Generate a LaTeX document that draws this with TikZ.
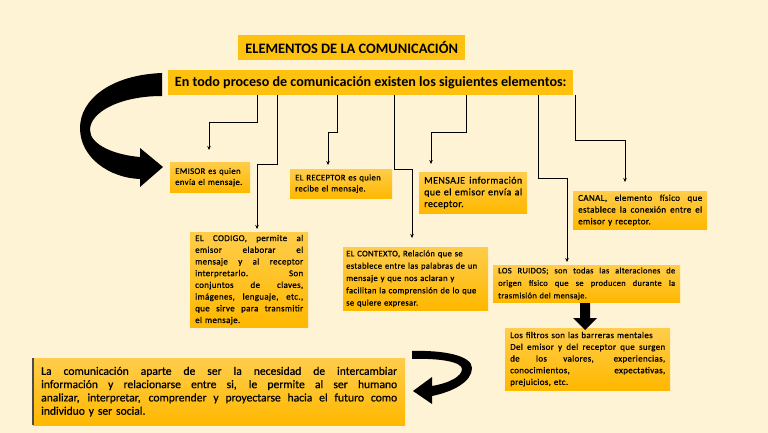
\documentclass[tikz,border=0pt]{standalone}
\usepackage{fontspec}
\setmainfont{Carlito}
\newfontfamily\bxf{Carlito}[LetterSpace=4,FakeBold=0.8]
\newfontfamily\btf{Carlito}[FakeBold=0.6]
\usetikzlibrary{arrows.meta}
\definecolor{bg}{RGB}{255,243,214}
\definecolor{boxtop}{RGB}{255,205,75}
\definecolor{boxbot}{RGB}{255,184,0}
\definecolor{headfill}{RGB}{255,193,15}
\newcommand\J[1]{\leavevmode\hbox to \jw{\spaceskip=\fontdimen2\font plus 1fil\relax\xspaceskip=\fontdimen2\font plus 1fil\relax #1}}
\newcommand\fs[2]{\bxf\fontsize{#1}{#2}\selectfont}
\tikzset{
  box/.style={top color=boxtop,bottom color=boxbot,draw=none,inner xsep=5pt,inner ysep=2pt,
    anchor=north west,align=left},
  headbox/.style={fill=headfill,draw=none,anchor=north west,align=center,inner sep=0pt},
  conn/.style={line width=0.6pt,-{Stealth[length=4pt,width=3.5pt]}},
}
\begin{document}
\begin{tikzpicture}[x=1pt,y=-1pt]
\fill[bg] (0,0) rectangle (768,433);
\useasboundingbox (0,0) rectangle (768,433);

% title and main
\node[headbox,minimum width=227pt,minimum height=25pt,font=\fontsize{14.4}{16}\selectfont\bfseries] (title) at (238,35) {ELEMENTOS DE LA COMUNICACIÓN};
\node[headbox,minimum width=405pt,minimum height=25pt,font=\fontsize{14.1}{16}\selectfont\bfseries] (main) at (168,70) {En todo proceso de comunicación existen los siguientes elementos:};

% boxes
\node[box,minimum width=80pt,text width=70pt,minimum height=30pt,font=\fs{8.7}{11}] (emisor) at (170,162)
  {EMISOR es quien\\envía el mensaje.};
\node[box,minimum width=118pt,text width=108pt,minimum height=95pt,font=\fs{8.9}{11.7}] (codigo) at (190,232)
  {\def\jw{108pt}\J{EL CODIGO, permite al}\\\J{emisor elaborar el}\\\J{mensaje y al receptor}\\\J{interpretarlo. Son}\\\J{conjuntos de claves,}\\\J{imágenes, lenguaje, etc.,}\\\J{que sirve para transmitir}\\el mensaje.};
\node[box,minimum width=102pt,text width=92pt,minimum height=29pt,font=\fs{8.7}{11}] (receptor) at (290,169)
  {EL RECEPTOR es quien\\recibe el mensaje.};
\node[box,minimum width=108pt,text width=98pt,minimum height=41pt,font=\fs{10}{11.7}] (mensaje) at (419,172)
  {\def\jw{98pt}\J{MENSAJE información}\\\J{que el emisor envía al}\\receptor.};
\node[box,minimum width=134pt,text width=124pt,minimum height=38pt,font=\fs{9}{11.7}] (canal) at (573,191)
  {\def\jw{124pt}\J{CANAL, elemento físico que}\\\J{establece la conexión entre el}\\emisor y receptor.};
\node[box,minimum width=145pt,text width=139pt,inner xsep=3pt,minimum height=63pt,font=\fs{8.6}{12.3}] (contexto) at (343,247)
  {\mbox{EL CONTEXTO, Relación que se}\\\mbox{establece entre las palabras de un}\\\mbox{mensaje y que nos aclaran y}\\\mbox{facilitan la comprensión de lo que}\\se quiere expresar.};
\node[box,minimum width=187pt,text width=177pt,minimum height=37pt,font=\fs{8.4}{12.5}] (ruidos) at (493,265)
  {\def\jw{177pt}\J{LOS RUIDOS; son todas las alteraciones de}\\\J{origen físico que se producen durante la}\\trasmisión del mensaje.};
\node[box,minimum width=165pt,text width=155pt,minimum height=62pt,font=\fs{8.9}{11.7}] (filtros) at (505,328)
  {\def\jw{155pt}Los filtros son las barreras mentales\\\J{Del emisor y del receptor que surgen}\\\J{de los valores, experiencias,}\\\J{conocimientos, expectativas,}\\prejuicios, etc.};
\node[box,minimum width=372pt,text width=356pt,inner xsep=8pt,minimum height=67pt,font=\btf\fontsize{11.6}{13.3}\selectfont] (bottom) at (33,358)
  {\def\jw{356pt}\J{La comunicación aparte de ser la necesidad de intercambiar}\\\J{información y relacionarse entre si, le permite al ser humano}\\\J{analizar, interpretar, comprender y proyectarse hacia el futuro como}\\individuo y ser social.};
\draw[line width=1.2pt,black!70] (bottom.north west) -- (bottom.south west);

% bend points
\coordinate (e1) at (257,122);
\coordinate (e2) at (209,122);
\coordinate (c1) at (277,164);
\coordinate (c2) at (257,164);
\coordinate (r1) at (337,132);
\coordinate (r2) at (328,132);
\coordinate (x1) at (394,169);
\coordinate (x2) at (412,169);
\coordinate (m1) at (466,132);
\coordinate (m2) at (431,132);
\coordinate (u1) at (538,178);
\coordinate (u2) at (567,178);
\coordinate (k1) at (575,140);
\coordinate (k2) at (625,140);

% connectors
\draw[conn,shorten >=12pt] (main.south -| e1) -- (e1) -- (e2) -- (e2 |- emisor.north);
\draw[conn,shorten >=3pt] (main.south -| c1) -- (c1) -- (c2) -- (c2 |- codigo.north);
\draw[conn,shorten >=4pt] (main.south -| r1) -- (r1) -- (r2) -- (r2 |- receptor.north);
\draw[conn,shorten >=9pt] (main.south -| x1) -- (x1) -- (x2) -- (x2 |- contexto.north);
\draw[conn,shorten >=8pt] (main.south -| m1) -- (m1) -- (m2) -- (m2 |- mensaje.north);
\draw[conn,shorten >=3pt] (main.south -| u1) -- (u1) -- (u2) -- (u2 |- ruidos.north);
\draw[conn,shorten >=9pt] (main.south -| k1) -- (k1) -- (k2) -- (k2 |- canal.north);

% block arrow ruidos -> filtros
\fill (580,303) -- (590,303) -- (590,318) -- (597,318) -- (585,330) -- (573,318) -- (580,318) -- cycle;

% big curved arrow
\fill (162,73) .. controls (110,75) and (80,100) .. (80,128)
  .. controls (80,158) and (110,178) .. (140,179)
  -- (140,187) -- (163,167) -- (140,148) -- (140,157)
  .. controls (115,155) and (90,145) .. (90,130)
  .. controls (90,112) and (120,96) .. (162,96) -- cycle;

% small curved arrow
\fill (412,351) .. controls (445,350) and (472,356) .. (472,368)
  .. controls (472,382) and (452,392) .. (432,396)
  -- (432,404) -- (413,391) -- (432,377) -- (432,386)
  .. controls (450,383) and (462,376) .. (462,369)
  .. controls (462,362) and (440,358) .. (412,359) -- cycle;
\end{tikzpicture}
\end{document}
